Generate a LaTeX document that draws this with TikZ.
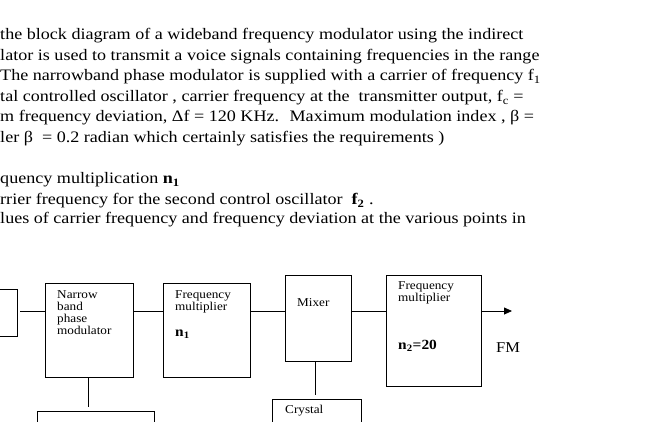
\documentclass[tikz,border=0pt]{standalone}
\usepackage{fontspec}
\setmainfont{Liberation Serif}
\usetikzlibrary{arrows.meta}
\begin{document}
\begin{tikzpicture}[x=1pt,y=-1pt,
  txt/.style={anchor=west,inner sep=0pt,xscale=1.13,font=\fontsize{16}{17}\selectfont},
  blk/.style={draw,line width=0.8pt},
  lbl/.style={anchor=north west,inner sep=0pt,align=left,xscale=1.1,font=\fontsize{12}{12}\selectfont},
  wire/.style={line width=0.8pt}]
\useasboundingbox (0,0) rectangle (648,421);
\node[txt] (l1) at (0,36) {the block diagram of a wideband frequency modulator using the indirect};
\node[txt] (l2) at (0,57) {lator is used to transmit a voice signals containing frequencies in the range};
\node[txt] (l3) at (0,77) {The narrowband phase modulator is supplied with a carrier of frequency f\textsubscript{1}};
\node[txt] (l4) at (0,98) {tal controlled oscillator , carrier frequency at the \ transmitter output, f\textsubscript{c} =};
\node[txt] (l5) at (0,118) {m frequency deviation, Δf = 120 KHz. \ Maximum modulation index , β =};
\node[txt] (l6) at (0,139) {ler β \ = 0.2 radian which certainly satisfies the requirements )};
\node[txt] (l7) at (0,180) {quency multiplication \textbf{n\textsubscript{1}}};
\node[txt] (l8) at (0,201) {rrier frequency for the second control oscillator \ \textbf{f\textsubscript{2}} .};
\node[txt] (l9) at (0,220) {lues of carrier frequency and frequency deviation at the various points in};

\draw[blk] (-5,289) rectangle (17,336);
\draw[blk] (45,283) rectangle (133,377);
\draw[blk] (163,283) rectangle (250,377);
\draw[blk] (285,275) rectangle (351,361);
\draw[blk] (386,275) rectangle (481,386);
\draw[blk] (37,425) -- (37,411) -- (154,411) -- (154,425);
\draw[blk] (272,425) -- (272,399) -- (361,399) -- (361,425);

\node[lbl] (nb) at (57,290) {Narrow\\band\\phase\\modulator};
\node[lbl] (fm1) at (175,290) {Frequency\\multiplier};
\node[lbl,font=\bfseries\fontsize{14}{15}\selectfont] (n1) at (175,330) {n\textsubscript{1}};
\node[lbl] (mx) at (297,298) {Mixer};
\node[lbl] (fm2) at (398,281) {Frequency\\multiplier};
\node[lbl,font=\bfseries\fontsize{14}{15}\selectfont] (n2) at (398,340) {n\textsubscript{2}=20};
\node[anchor=west,inner sep=0pt,xscale=1.1,font=\fontsize{15}{16}\selectfont] (fm) at (496,348) {FM};
\node[lbl] (cr) at (285,405) {Crystal};

\coordinate (a0) at (20,311);
\coordinate (out) at (512,311);
\draw[wire] (a0) -- (45,311) (133,311) -- (163,311) (250,311) -- (285,311) (351,311) -- (386,311);
\draw[wire,-{Triangle[length=8pt,width=7pt]}] (481,311) -- (out);
\draw[wire] (88,377) -- (88,407);
\draw[wire] (315,361) -- (315,395);
\end{tikzpicture}
\end{document}
